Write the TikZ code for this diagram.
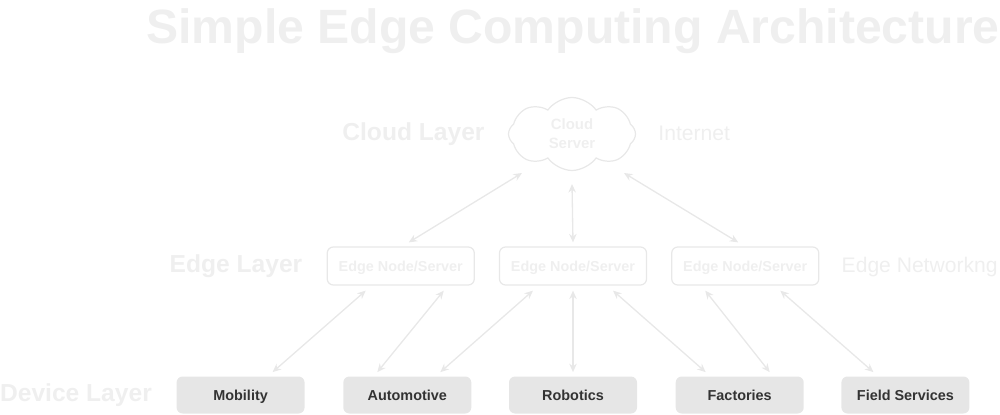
\documentclass[tikz,border=0pt]{standalone}
\usepackage{fontspec}
\setmainfont{Liberation Sans}
\usepackage{tikz}
\usetikzlibrary{positioning,arrows.meta,shapes.symbols,calc}
\definecolor{faint}{HTML}{EFEFEF}
\definecolor{line}{HTML}{E8E8E8}
\definecolor{devbg}{HTML}{E6E6E6}
\definecolor{ink}{HTML}{333333}
\tikzset{
  edgebox/.style={rectangle,rounded corners=1.2mm,draw=line,line width=0.7pt,
    text=faint,font=\bfseries\fontsize{8.2}{10}\selectfont,
    text height=1.6ex,text depth=.45ex,
    minimum width=29.4mm,minimum height=7.6mm},
  devbox/.style={rectangle,rounded corners=1.2mm,fill=devbg,
    text=ink,font=\bfseries\fontsize{8.2}{10}\selectfont,
    text height=1.6ex,text depth=.45ex,
    minimum width=25.6mm,minimum height=7.4mm},
  layer/.style={inner sep=0pt,text=faint,font=\bfseries\fontsize{14}{16}\selectfont,
    text height=1.6ex,text depth=.3ex},
  note/.style={inner sep=0pt,text=faint,font=\fontsize{12}{14}\selectfont,
    text height=1.6ex,text depth=.3ex},
  ar/.style={{Stealth[length=1.7mm,width=1.5mm]}-{Stealth[length=1.7mm,width=1.5mm]},
    draw=line,line width=0.75pt},
}
\begin{document}
\begin{tikzpicture}[x=0.2mm,y=-0.2mm]
  \useasboundingbox (0,0) rectangle (1000,415);
  \node[text=faint,font=\bfseries\fontsize{27.4}{30}\selectfont] (title) at (573,31)
    {Simple Edge Computing Architecture};
  % cloud layer
  \node[cloud,cloud puffs=8,cloud puff arc=110,aspect=1.7,draw=line,line width=0.7pt,
    minimum width=25.4mm,minimum height=14.6mm,inner sep=0pt,align=center,
    text=faint,font=\bfseries\fontsize{8.5}{10.8}\selectfont] (cloud) at (572,134) {Cloud\\Server};
  \node[layer,left=4.6mm of cloud] (cl) {Cloud Layer};
  \node[note,right=4.4mm of cloud] (inet) {Internet};
  % edge layer
  \node[edgebox] (e2) at (573,266) {Edge Node/Server};
  \node[edgebox,left=4.8mm of e2] (e1) {Edge Node/Server};
  \node[edgebox,right=4.8mm of e2] (e3) {Edge Node/Server};
  \node[layer,left=4.8mm of e1] (el) {Edge Layer};
  \node[note,right=4.4mm of e3] (enet) {Edge Networkng};
  % device layer
  \node[devbox] (rob) at (573,395) {Robotics};
  \node[devbox,left=7.4mm of rob] (auto) {Automotive};
  \node[devbox,left=7.6mm of auto] (mob) {Mobility};
  \node[devbox,right=7.6mm of rob] (fact) {Factories};
  \node[devbox,right=7.4mm of fact] (field) {Field Services};
  \node[layer,left=4.8mm of mob] (dl) {Device Layer};
  % links
  \draw[ar] ($(cloud.center)+(-50,39)$) -- ($(e1.north)+(8,-4)$);
  \draw[ar] ($(cloud.center)+(0,50)$) -- ($(e2.north)+(0,-4)$);
  \draw[ar] ($(cloud.center)+(52,39)$) -- ($(e3.north)+(-7,-4)$);
  \draw[ar] ($(e1.south)+(-35,5)$) -- ($(mob.north)+(32,-4)$);
  \draw[ar] ($(e1.south)+(43,5)$) -- ($(auto.north)+(-30,-4)$);
  \draw[ar] ($(e2.south)+(-40,5)$) -- ($(auto.north)+(33,-4)$);
  \draw[ar] ($(e2.south)+(0,5)$) -- ($(rob.north)+(0,-4)$);
  \draw[ar] ($(e2.south)+(40,5)$) -- ($(fact.north)+(-34,-4)$);
  \draw[ar] ($(e3.south)+(-40,5)$) -- ($(fact.north)+(30,-4)$);
  \draw[ar] ($(e3.south)+(35,5)$) -- ($(field.north)+(-32,-4)$);
\end{tikzpicture}
\end{document}
